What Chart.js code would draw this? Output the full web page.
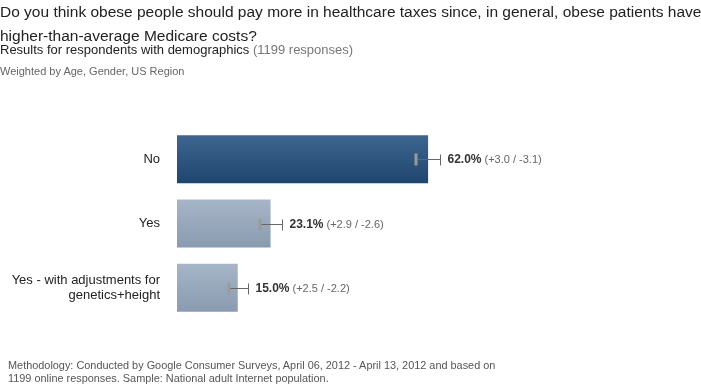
<!DOCTYPE html>
<html>
<head>
<meta charset="utf-8">
<script src="https://cdn.jsdelivr.net/npm/chart.js@4/dist/chart.umd.min.js"></script>
<style>
  body { margin: 0; background: #fff; font-family: "Liberation Sans", Arial, sans-serif; }
  #wrap { position: relative; width: 701px; height: 387px; overflow: hidden; }
  canvas { position: absolute; left: 0; top: 0; }
  .t { position: absolute; left: 0; white-space: nowrap; }
  #q { top: 0; font-size: 15.5px; line-height: 24px; color: #222; }
  #sub { top: 42px; font-size: 13px; color: #222; }
  #sub span { color: #777; }
  #w { top: 65px; font-size: 11px; color: #666; }
  #foot { left: 8px; top: 359px; font-size: 10.9px; line-height: 13px; color: #555; }
</style>
</head>
<body>
<div id="wrap">
  <canvas id="c" width="701" height="387"></canvas>
  <div class="t" id="q">Do you think obese people should pay more in healthcare taxes since, in general, obese patients have<br>higher-than-average Medicare costs?</div>
  <div class="t" id="sub">Results for respondents with demographics <span>(1199 responses)</span></div>
  <div class="t" id="w">Weighted by Age, Gender, US Region</div>
  <div class="t" id="foot">Methodology: Conducted by Google Consumer Surveys, April 06, 2012 - April 13, 2012 and based on<br>1199 online responses. Sample: National adult Internet population.</div>
</div>
<script>
const categories = ["No", "Yes", ["Yes - with adjustments for", "genetics+height"]];
const values = [62.0, 23.1, 15.0];
const errPlus = [3.0, 2.9, 2.5];
const errMinus = [3.1, 2.6, 2.2];

function barFill(ctx) {
  const chart = ctx.chart;
  if (!chart.chartArea || !chart.scales.y) return "#9aabbf";
  const yc = chart.scales.y.getPixelForValue(ctx.dataIndex);
  const g = chart.ctx.createLinearGradient(0, yc - 24, 0, yc + 24);
  if (ctx.dataIndex === 0) {
    g.addColorStop(0, "#3d6690");
    g.addColorStop(1, "#1f456d");
  } else {
    g.addColorStop(0, "#a6b5c7");
    g.addColorStop(1, "#8a9bb0");
  }
  return g;
}

/* error bars + value labels */
const extras = {
  id: "extras",
  afterDatasetsDraw(chart) {
    const c = chart.ctx, x = chart.scales.x;
    chart.getDatasetMeta(0).data.forEach((bar, i) => {
      const y = Math.round(bar.y) + 0.5;
      const x1 = Math.round(x.getPixelForValue(values[i] - errMinus[i]));
      const x2 = Math.round(x.getPixelForValue(values[i] + errPlus[i])) + 0.5;
      c.save();
      c.strokeStyle = "#666";
      c.lineWidth = 1;
      c.beginPath();
      c.moveTo(x1, y); c.lineTo(x2, y);
      c.moveTo(x2, y - 5); c.lineTo(x2, y + 6);
      c.stroke();
      c.strokeStyle = "#9a9a9a";
      c.lineWidth = 3;
      c.beginPath();
      c.moveTo(x1, y - 6); c.lineTo(x1, y + 6);
      c.stroke();
      c.textBaseline = "middle";
      c.textAlign = "left";
      c.font = "bold 12px 'Liberation Sans', Arial, sans-serif";
      c.fillStyle = "#333";
      const lbl = values[i].toFixed(1) + "%";
      const tx = x2 + 7;
      c.fillText(lbl, tx, y);
      const w = c.measureText(lbl).width;
      c.font = "11px 'Liberation Sans', Arial, sans-serif";
      c.fillStyle = "#666";
      c.fillText("(+" + errPlus[i].toFixed(1) + " / -" + errMinus[i].toFixed(1) + ")", tx + w + 3, y);
      c.restore();
    });
  }
};

new Chart(document.getElementById("c"), {
  type: "bar",
  data: {
    labels: categories,
    datasets: [{
      data: values,
      backgroundColor: barFill,
      borderWidth: 0,
      barPercentage: 1,
      categoryPercentage: 0.745
    }]
  },
  options: {
    indexAxis: "y",
    responsive: false,
    animation: false,
    layout: { padding: { top: 127, bottom: 67, right: 119, left: 0 } },
    plugins: { legend: { display: false }, tooltip: { enabled: false } },
    scales: {
      x: { min: 0, max: 100, display: false },
      y: {
        grid: { display: false, drawTicks: false },
        border: { display: false },
        ticks: {
          padding: 17,
          color: "#222",
          font: { family: "'Liberation Sans', Arial, sans-serif", size: 13 }
        },
        afterFit(s) { s.width = 177; }
      }
    }
  },
  plugins: [extras]
});
</script>
</body>
</html>
